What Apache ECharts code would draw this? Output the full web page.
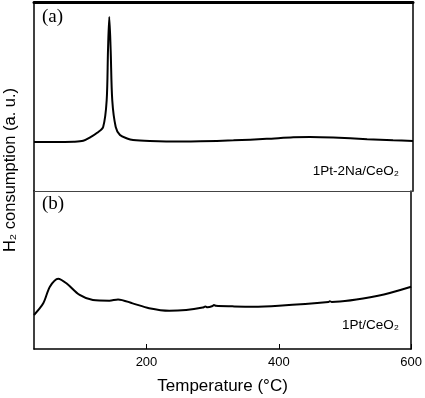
<!DOCTYPE html>
<html><head><meta charset="utf-8">
<script src="https://cdn.jsdelivr.net/npm/echarts@6/dist/echarts.min.js"></script>
<style>html,body{margin:0;padding:0;background:#fff}#c{width:425px;height:398px}</style>
</head><body><div id="c"></div>
<script>
// Temperature (°C) and H2 consumption (a.u.)
const tempA = [30,60,90,104,115,125,134,139.3,141.3,143.2,145.3,147.7,152.9,159.3,170,179,204,250,280,330,380,420,445,480,531,570,600];
const valA  = [25.9,25.9,26.1,26.6,28.5,30.8,33.9,48,74.6,92.1,74.6,48,33.9,29.6,27.8,27.0,26.5,26.2,26.3,26.8,27.6,28.4,28.6,28.3,27.4,26.8,26.5];
const tempB = [30,44,54,66.5,79,99,119,144,157,179,204,234.5,260,285,289,292,300,302,305,330,360,400,475,477,480,550,600];
const valB  = [21.5,28.9,39.4,44.5,41.6,34.2,31,30.6,31.4,28.9,25.8,24.2,24.7,26.2,26.9,26.4,27.2,27.9,27.3,27.0,26.8,27.4,29.7,30.3,29.8,33.7,39.4];
const xTicks = [200,400,600];
const labelA = '(a)', labelB = '(b)';
const nameA = '1Pt-2Na/CeO₂', nameB = '1Pt/CeO₂';

const chart = echarts.init(document.getElementById('c'), null, {renderer:'canvas'});
const pair = (t,v) => t.map((x,i)=>[x,v[i]]);
const L = 34, W = 379;
const noAx = {axisTick:{show:false}, axisLabel:{show:false}, splitLine:{show:false}};
chart.setOption({
  animation:false,
  grid:[
    {left:L, width:W, top:2, height:189},
    {left:L, width:W, top:191, height:158}
  ],
  xAxis:[
    Object.assign({gridIndex:0, type:'value', min:30, max:600, position:'bottom',
     axisLine:{onZero:false, lineStyle:{color:'#444', width:1}}}, noAx),
    Object.assign({gridIndex:0, type:'value', min:30, max:600, position:'top',
     axisLine:{onZero:false, lineStyle:{color:'#000', width:3}}}, noAx),
    {gridIndex:1, type:'value', min:30, max:600, position:'bottom',
     name:'Temperature (°C)', nameLocation:'middle', nameGap:29,
     nameTextStyle:{fontFamily:'Liberation Sans, Arial', fontSize:17, color:'#000'},
     axisLine:{onZero:false, lineStyle:{color:'#000', width:1.5}},
     axisTick:{show:true, inside:true, length:5, customValues:xTicks, lineStyle:{color:'#000'}},
     axisLabel:{customValues:xTicks, margin:7, fontFamily:'Liberation Sans, Arial', fontSize:13, color:'#000'},
     splitLine:{show:false}}
  ],
  yAxis:[
    Object.assign({gridIndex:0, type:'value', min:0, max:100, axisLine:{show:true, onZero:false, lineStyle:{color:'#000', width:1.5}}}, noAx),
    Object.assign({gridIndex:0, type:'value', min:0, max:100, position:'right', axisLine:{show:true, onZero:false, lineStyle:{color:'#000', width:1.5}}}, noAx),
    Object.assign({gridIndex:1, type:'value', min:0, max:100, axisLine:{show:true, onZero:false, lineStyle:{color:'#000', width:1.5}}}, noAx),
    Object.assign({gridIndex:1, type:'value', min:0, max:100, position:'right', axisLine:{show:true, onZero:false, lineStyle:{color:'#000', width:1.5}}}, noAx)
  ],
  series:[
    {type:'line', xAxisIndex:0, yAxisIndex:0, data:pair(tempA,valA), smooth:0.3, showSymbol:false,
     lineStyle:{color:'#000', width:2}},
    {type:'line', xAxisIndex:2, yAxisIndex:2, data:pair(tempB,valB), smooth:0.3, showSymbol:false,
     lineStyle:{color:'#000', width:2}}
  ],
  graphic:[
    {type:'text', left:42, top:8, style:{text:labelA, font:'19px "Liberation Serif", "Times New Roman", serif', fill:'#000'}},
    {type:'text', left:42, top:195, style:{text:labelB, font:'19px "Liberation Serif", "Times New Roman", serif', fill:'#000'}},
    {type:'text', right:26, top:164, style:{text:nameA, font:'13.5px "Liberation Sans", Arial', fill:'#000'}},
    {type:'text', right:26, top:318, style:{text:nameB, font:'13.5px "Liberation Sans", Arial', fill:'#000'}},
    {type:'text', x:2, y:170, rotation:Math.PI/2, style:{text:'H₂ consumption (a. u.)', font:'16.5px "Liberation Sans", Arial', fill:'#000', align:'center', verticalAlign:'top'}}
  ]
});
</script></body></html>
